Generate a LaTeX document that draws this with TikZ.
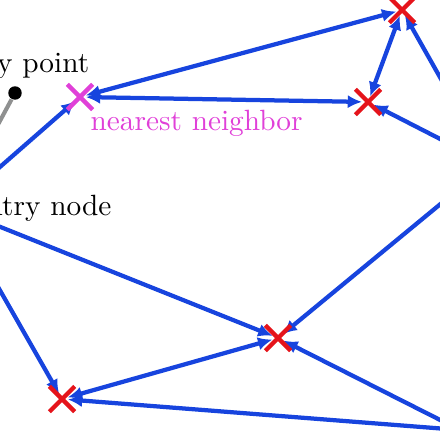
\documentclass[tikz,border=0pt]{standalone}
\usetikzlibrary{arrows.meta, shapes.misc, positioning}
\definecolor{edgeblue}{HTML}{1744DE}
\definecolor{candred}{HTML}{E5141B}
\definecolor{nnpink}{HTML}{E040D8}
\definecolor{querygray}{HTML}{8F9090}

\tikzset{
  link/.style={edgeblue, line width=1.45pt, -{Latex[length=4.9pt,width=4.5pt]}, shorten >=2pt},
  twoway/.style={link, {Latex[length=4.9pt,width=4.5pt]}-{Latex[length=4.9pt,width=4.5pt]}, shorten <=2pt},
  cand/.style={cross out, draw=candred, line width=1.45pt, minimum size=7.2pt, inner sep=0pt},
  tag/.style={inner sep=0pt},
}

\begin{document}
\begin{tikzpicture}[x=0.012cm, y=-0.012cm]
\useasboundingbox (0,0) rectangle (440,440);
\clip (0,0) rectangle (440,440);

% graph vertices (entry and the two on the right lie outside the view)
\coordinate (entry) at (-47,208);
\coordinate (nn) at (80,97);
\coordinate (topc) at (402,10);
\coordinate (midc) at (368,102);
\coordinate (lowc) at (278,338);
\coordinate (leftc) at (62,399);
\coordinate (farE) at (489,164);
\coordinate (farSE) at (460,430);

% query point
\node[circle, fill=black, inner sep=0pt, minimum size=4.6pt] (query) at (15,93) {};
\draw[querygray, line width=1.4pt] (query) -- (entry);

% edges
\draw[link] (entry) -- (nn);
\draw[link] (entry) -- (lowc);
\draw[link] (entry) -- (leftc);
\draw[twoway] (nn) -- (topc);
\draw[twoway] (nn) -- (midc);
\draw[twoway] (topc) -- (midc);
\draw[twoway] (lowc) -- (leftc);
\draw[link] (farE) -- (topc);
\draw[link] (farE) -- (midc);
\draw[link] (farE) -- (lowc);
\draw[link] (farSE) -- (lowc);
\draw[link] (farSE) -- (leftc);

% visited vertices
\node[cand] (topx) at (topc) {};
\node[cand] (midx) at (midc) {};
\node[cand] (lowx) at (lowc) {};
\node[cand] (leftx) at (leftc) {};
\node[cand, draw=nnpink] (nnx) at (nn) {};

% labels
\node[tag, anchor=base] (qlabel) at (15,73) {query point};
\node[tag, anchor=base west, text=nnpink] (nnlabel) at (90,131) {nearest neighbor};
\node[tag, anchor=base east] (elabel) at (112,215) {entry node};

\end{tikzpicture}
\end{document}
